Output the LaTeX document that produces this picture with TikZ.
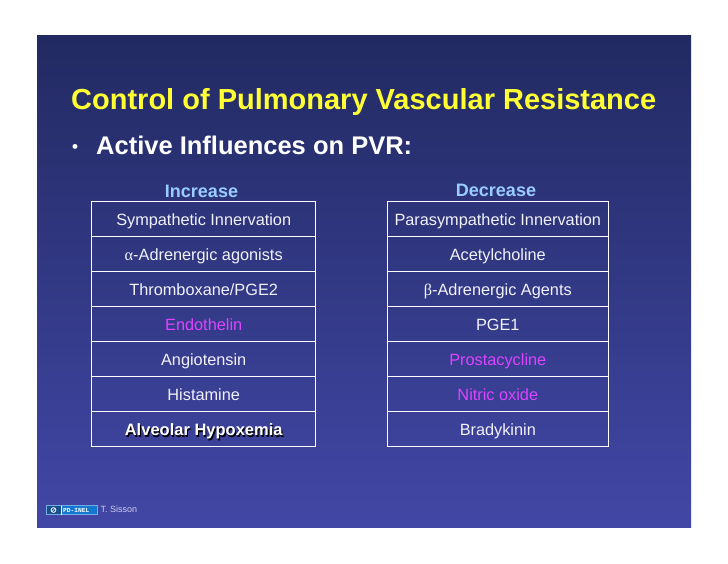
\documentclass[tikz,border=0pt]{standalone}
\usepackage{fontspec}
\setmainfont{Liberation Sans}
\setmonofont{Liberation Mono}
\newfontfamily\greekfont{Liberation Serif}
\definecolor{slidetop}{HTML}{222A62}
\definecolor{slidebot}{HTML}{4247A6}
\definecolor{titley}{HTML}{FFFF33}
\definecolor{headblue}{HTML}{99CCFF}
\definecolor{magentatxt}{HTML}{DD44FF}
\definecolor{rowtxt}{HTML}{F2F2FA}
\definecolor{logodark}{HTML}{1A4F8C}
\definecolor{logoblue}{HTML}{1578D0}
\tikzset{
  rowbox/.style={draw=white,line width=0.9pt,minimum width=#1,minimum height=35pt,inner sep=0pt,text=rowtxt,font=\fontsize{16.3}{18}\selectfont,text height=14.6pt,text depth=1.4pt,anchor=center,align=center},
  lrow/.style={rowbox=224pt},
  rrow/.style={rowbox=221.5pt},
  headtxt/.style={text=headblue,font=\fontsize{18}{20}\bfseries\selectfont,inner sep=0pt},
  boldrow/.style={inner sep=0pt,font=\fontsize{16.5}{18}\bfseries\selectfont,text height=14.6pt,text depth=1.4pt},
}
\begin{document}
\begin{tikzpicture}[x=1pt,y=-1pt]
\useasboundingbox (0,0) rectangle (728,563);
\fill[white] (0,0) rectangle (728,563);
\shade[top color=slidetop,bottom color=slidebot] (37,35) rectangle (691,527);
\node[anchor=base west,inner sep=0pt,text=titley,font=\fontsize{29}{32}\bfseries\selectfont] (title) at (71,109) {Control of Pulmonary Vascular Resistance};
\node[anchor=base west,inner sep=0pt,text=white,font=\fontsize{17}{20}\bfseries\selectfont] (bullet) at (72,152) {•};
\node[anchor=base west,inner sep=0pt,text=white,font=\fontsize{25.5}{28}\bfseries\selectfont] (sub) at (96,154) {Active Influences on PVR:};
\node[headtxt,anchor=base] (inc) at (201.5,197.5) {Increase};
\node[headtxt,anchor=base] (dec) at (496,196) {Decrease};
% left column
\node[lrow] (l1) at (203.7,218.75) {Sympathetic Innervation};
\node[lrow] (l2) at (203.7,253.75) {{\greekfont α}-Adrenergic agonists};
\node[lrow] (l3) at (203.7,288.75) {Thromboxane/PGE2};
\node[lrow,text=magentatxt] (l4) at (203.7,323.75) {Endothelin};
\node[lrow] (l5) at (203.7,358.75) {Angiotensin};
\node[lrow] (l6) at (203.7,393.75) {Histamine};
\node[lrow] (l7) at (203.7,428.75) {};
\node[boldrow,text=black] (l7s) at ([shift={(1.2,1.7)}]l7.center) {Alveolar Hypoxemia};
\node[boldrow,text=white] (l7t) at ([shift={(0,0.5)}]l7.center) {Alveolar Hypoxemia};
% right column
\node[rrow] (r1) at (497.8,218.75) {Parasympathetic Innervation};
\node[rrow] (r2) at (497.8,253.75) {Acetylcholine};
\node[rrow] (r3) at (497.8,288.75) {{\greekfont β}-Adrenergic Agents};
\node[rrow] (r4) at (497.8,323.75) {PGE1};
\node[rrow,text=magentatxt] (r5) at (497.8,358.75) {Prostacycline};
\node[rrow,text=magentatxt] (r6) at (497.8,393.75) {Nitric oxide};
\node[rrow] (r7) at (497.8,428.75) {Bradykinin};
% badge
\fill[logoblue] (46,505) rectangle (98,515);
\fill[logodark] (46,505) rectangle (61,515);
\draw[logoblue!60!white,line width=0.5pt] (46.3,505.3) rectangle (97.7,514.7);
\draw[white,line width=0.4pt] (61,505.5) -- (61,514.5);
\draw[white,line width=0.8pt] (53.5,510) circle (2.4pt);
\draw[white,line width=0.6pt] (51.8,511.7) -- (55.2,508.3);
\node[anchor=base west,inner sep=0pt,text=white,font=\ttfamily\bfseries\fontsize{6.2}{7}\selectfont] (badge) at (63,512) {PD-INEL};
\node[anchor=base west,inner sep=0pt,text=rowtxt!80!slidebot,font=\fontsize{9}{11}\selectfont] (author) at (100.5,512) {T. Sisson};
\end{tikzpicture}
\end{document}
